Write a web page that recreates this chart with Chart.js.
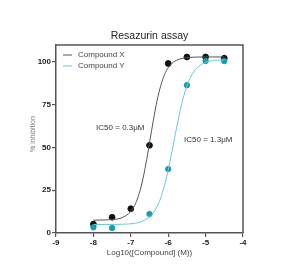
<!DOCTYPE html>
<html><head><meta charset="utf-8">
<script src="https://cdn.jsdelivr.net/npm/chart.js@4"></script>
<style>html,body{margin:0;padding:0;background:#fff}#wrap{width:300px;height:276px}</style>
</head><body><div id="wrap"><canvas id="c" width="300" height="276"></canvas></div>
<script>
const chartTitle = "Resazurin assay";
const xAxisTitle = "Log10([Compound] (M))";
const yAxisTitle = "% inhibition";
const seriesNames = ["Compound X", "Compound Y"];
const doseLog = [-8, -7.5, -7, -6.5, -6, -5.5, -5, -4.5];
const inhibX = [5.2, 9.2, 14.2, 51.3, 99.2, 103, 103, 102.3];
const inhibY = [3.3, 2.9, null, 11.1, 37.4, 86.5, 100.6, 100.6];
// fitted curves
const fitXlog = [-8, -7.75, -7.5, -7.25, -7, -6.9, -6.8, -6.7, -6.6, -6.5, -6.4, -6.3, -6.2, -6.1, -6, -5.9, -5.75, -5.5, -5, -4.5];
const fitXval = [7.5, 7.6, 7.9, 8.8, 12.6, 16.0, 21.4, 29.3, 40.0, 52.6, 65.6, 77.2, 86.2, 92.6, 96.7, 99.3, 101.3, 102.6, 103, 103];
const fitYlog = [-8, -7.5, -7.25, -7, -6.75, -6.5, -6.4, -6.3, -6.2, -6.1, -6, -5.9, -5.8, -5.7, -5.6, -5.5, -5.4, -5.3, -5.2, -5, -4.75, -4.5];
const fitYval = [5.0, 5.0, 5.1, 5.4, 6.4, 9.3, 11.7, 15.3, 20.5, 27.7, 36.8, 47.6, 58.9, 69.6, 78.8, 86.0, 91.2, 94.8, 97.2, 99.8, 101.0, 101.3];
const xTicks = [-9, -8, -7, -6, -5, -4];
const yTicks = [0, 25, 50, 75, 100];
const ic50Labels = ["IC50 = 0.3\u03bcM", "IC50 = 1.3\u03bcM"];

const ic50Pos = [{x: -7.28, y: 61.4}, {x: -4.93, y: 54.4}];
const colors = {xLine: '#555555', xPt: '#111111', yLine: '#6cc7d4', yPt: '#1a9bb0'};
const FONT = '"Liberation Sans", Arial, sans-serif';

const pts = (xs, ys) => xs.map((x, i) => ({x: x, y: ys[i]})).filter(p => p.y !== null);

const deco = {
  id: 'deco',
  afterDraw(chart) {
    const ctx = chart.ctx, a = chart.chartArea;
    const xs = chart.scales.x, ys = chart.scales.y;
    ctx.save();
    ctx.strokeStyle = '#555'; ctx.lineWidth = 1.5;
    ctx.beginPath();
    ctx.moveTo(a.left, a.top); ctx.lineTo(a.right, a.top); ctx.lineTo(a.right, a.bottom);
    ctx.stroke();
    ctx.textAlign = 'center'; ctx.textBaseline = 'middle';
    // title
    ctx.fillStyle = '#222';
    ctx.font = '10.5px ' + FONT;
    ctx.fillText(chartTitle, (a.left + a.right) / 2, a.top - 9);
    // x axis title
    ctx.font = '8px ' + FONT; ctx.fillStyle = '#444';
    ctx.fillText(xAxisTitle, (a.left + a.right) / 2, a.bottom + 20);
    // y axis title
    ctx.save();
    ctx.translate(a.left - 23, (a.top + a.bottom) / 2 - 5);
    ctx.rotate(-Math.PI / 2);
    ctx.font = '7px ' + FONT; ctx.fillStyle = '#777';
    ctx.fillText(yAxisTitle, 0, 0);
    ctx.restore();
    // IC50 annotations
    ctx.font = '8px ' + FONT;
    ctx.fillStyle = '#333';
    ic50Labels.forEach((t, i) => {
      ctx.fillText(t, xs.getPixelForValue(ic50Pos[i].x), ys.getPixelForValue(ic50Pos[i].y));
    });
    // legend
    const lc = [colors.xLine, colors.yLine];
    ctx.textAlign = 'left';
    seriesNames.forEach((n, i) => {
      const y = a.top + 10 + i * 11;
      ctx.strokeStyle = lc[i]; ctx.lineWidth = 1;
      ctx.beginPath(); ctx.moveTo(a.left + 7, y); ctx.lineTo(a.left + 16, y); ctx.stroke();
      ctx.fillStyle = '#444';
      ctx.fillText(n, a.left + 22, y);
    });
    ctx.restore();
  }
};

new Chart(document.getElementById('c'), {
  type: 'scatter',
  data: {
    datasets: [
      {label: seriesNames[0] + ' fit', type: 'line', data: pts(fitXlog, fitXval), borderColor: colors.xLine, borderWidth: 1, pointRadius: 0, cubicInterpolationMode: 'monotone', fill: false},
      {label: seriesNames[1] + ' fit', type: 'line', data: pts(fitYlog, fitYval), borderColor: colors.yLine, borderWidth: 1, pointRadius: 0, cubicInterpolationMode: 'monotone', fill: false},
      {label: seriesNames[1], data: pts(doseLog, inhibY), backgroundColor: colors.yPt, borderColor: colors.yPt, pointRadius: 2.7},
      {label: seriesNames[0], data: pts(doseLog, inhibX), backgroundColor: colors.xPt, borderColor: colors.xPt, pointRadius: 2.9}
    ]
  },
  options: {
    responsive: false, animation: false, devicePixelRatio: 1,
    layout: {padding: {top: 45, right: 57, bottom: 0, left: 0}},
    plugins: {legend: {display: false}, title: {display: false}, tooltip: {enabled: false}},
    scales: {
      x: {
        type: 'linear', min: -9, max: -4,
        afterFit: s => { s.height = 43; },
        afterBuildTicks: s => { s.ticks = xTicks.map(v => ({value: v})); },
        border: {display: true, color: '#555', width: 1.5},
        grid: {display: true, drawOnChartArea: false, drawTicks: true, tickLength: 4, color: '#555', lineWidth: 1.2},
        ticks: {color: '#222', font: {size: 8, weight: 'bold', family: FONT}, padding: 1}
      },
      y: {
        min: 0, max: 110,
        afterFit: s => { s.width = 56; },
        afterBuildTicks: s => { s.ticks = yTicks.map(v => ({value: v})); },
        border: {display: true, color: '#555', width: 1.5},
        grid: {display: true, drawOnChartArea: false, drawTicks: true, tickLength: 4, color: '#555', lineWidth: 1.2},
        ticks: {color: '#222', font: {size: 8, weight: 'bold', family: FONT}, padding: 1}
      }
    }
  },
  plugins: [deco]
});
</script>
</body></html>
